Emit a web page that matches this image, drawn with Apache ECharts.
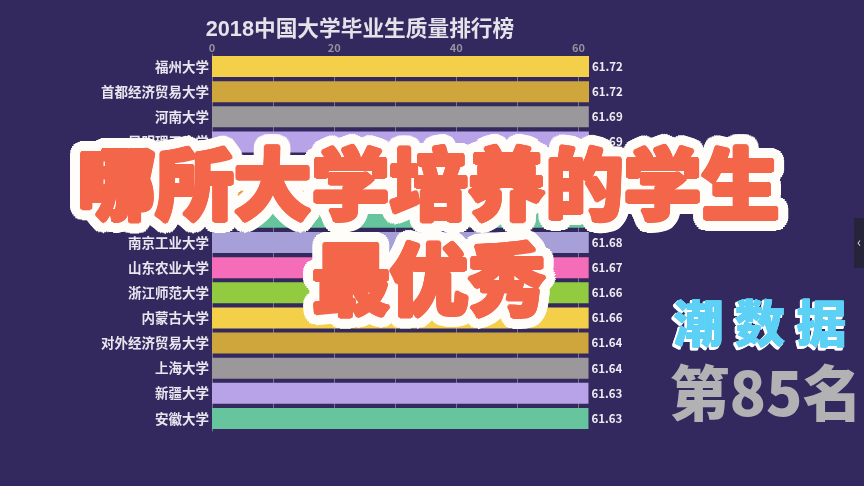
<!DOCTYPE html>
<html>
<head>
<meta charset="utf-8">
<style>
  html, body { margin: 0; padding: 0; background: #33295e; }
  #main { width: 864px; height: 486px; }
</style>
<script src="https://cdn.jsdelivr.net/npm/echarts@6/dist/echarts.min.js"></script>
</head>
<body>
<div id="main"></div>
<script>
// rows 5-7 sit behind the big caption, their names can't be read
var schools = ['福州大学', '首都经济贸易大学', '河南大学', '昆明理工大学', '', '', '', '南京工业大学', '山东农业大学', '浙江师范大学', '内蒙古大学', '对外经济贸易大学', '上海大学', '新疆大学', '安徽大学'];
var scores = [61.72, 61.72, 61.69, 61.69, 61.69, 61.68, 61.68, 61.68, 61.67, 61.66, 61.66, 61.64, 61.64, 61.63, 61.63];
var barColors = ['#f3cf4a', '#cfa63c', '#9a989a', '#b9a3e8', '#66c59c', '#e8a040', '#66c59c', '#a69fd8', '#f56cb8', '#92cb3f', '#f3cf4a', '#cfa63c', '#9a989a', '#b9a3e8', '#66c59c'];
var xTicks = [0, 20, 40, 60];

var bg = '#33295e';
var cjk = '"Noto Sans CJK SC"';
var latin = '"Liberation Sans", "Noto Sans CJK SC"';
var myChart = echarts.init(document.getElementById('main'));

function bigText(text, x, y, size, fill, weight) {
  return {
    type: 'text',
    z: 100,
    style: {
      text: text,
      x: x,
      y: y,
      fill: fill,
      font: weight + ' ' + size + 'px ' + cjk,
      textAlign: 'center',
      textVerticalAlign: 'middle'
    }
  };
}

// zrender text strokes have sharp corners, so a round outline is made from copies on a circle
function ring(text, x, y, size, fill, radius, count) {
  var out = [];
  for (var i = 0; i < count; i++) {
    var a = i / count * Math.PI * 2;
    out.push(bigText(text, x + Math.cos(a) * radius, y + Math.sin(a) * radius, size, fill, 900));
  }
  return out;
}

var caption = [
  ['哪所大学培养的学生', 428.5, 184],
  ['最优秀', 429, 279]
];
var captionGraphic = [];
caption.forEach(function (c) {
  captionGraphic = captionGraphic.concat(ring(c[0], c[1], c[2], 78, '#fffdfa', 12, 32));
});
caption.forEach(function (c) {
  captionGraphic = captionGraphic.concat(ring(c[0], c[1], c[2], 78, '#f4664a', 2, 12));
});

myChart.setOption({
  backgroundColor: bg,
  animation: false,
  title: {
    text: '2018中国大学毕业生质量排行榜',
    left: 355,
    top: 14,
    textAlign: 'center',
    textStyle: { color: '#e4e3ea', fontSize: 21.7, fontWeight: 'bold', fontFamily: latin }
  },
  grid: { left: 212, right: 275, top: 54, height: 377 },
  xAxis: {
    type: 'value',
    position: 'top',
    min: 0,
    max: 61.72,
    axisTick: { show: false },
    axisLine: { show: false },
    axisLabel: { customValues: xTicks, color: '#96929f', fontSize: 11, margin: 1, fontWeight: 'bold', fontFamily: cjk },
    splitLine: { show: true, showMaxLine: false, lineStyle: { color: '#77738a', width: 1 } },
    customValues: xTicks
  },
  yAxis: {
    type: 'category',
    inverse: true,
    data: schools,
    axisTick: { show: false },
    axisLine: { show: true, lineStyle: { color: '#77738a' } },
    axisLabel: { color: '#e8e6ee', fontSize: 13.5, fontWeight: 'bold', margin: 3, fontFamily: cjk }
  },
  series: [{
    type: 'bar',
    data: scores,
    barWidth: 21,
    itemStyle: { color: function (p) { return barColors[p.dataIndex]; } },
    label: {
      show: true,
      position: 'right',
      distance: 3,
      color: '#eeedf3',
      fontSize: 11.5,
      fontWeight: 'bold',
      fontFamily: cjk,
      formatter: function (p) { return p.value.toFixed(2); }
    }
  }],
  graphic: [
    // grid lines stop at the first and last bar
    { type: 'rect', z: 90, shape: { x: 213, y: 52, width: 380, height: 4 }, style: { fill: bg } },
    { type: 'rect', z: 90, shape: { x: 213, y: 429, width: 380, height: 4 }, style: { fill: bg } }
  ].concat(
    captionGraphic,
    ring('潮 数 据', 758, 325, 50, '#ffffff', 1, 8),
    ring('潮 数 据', 760, 323, 50, '#5cd0f5', 0.5, 6),
    [
      bigText('第85名', 766, 393, 60, '#b2b1b4', 900),
      { type: 'rect', z: 100, shape: { x: 854, y: 218, width: 10, height: 50 }, style: { fill: '#26243a' } },
      { type: 'text', z: 101, style: { text: '‹', x: 859, y: 242, fill: '#d8d8e0', font: '14px ' + cjk, textAlign: 'center', textVerticalAlign: 'middle' } }
    ]
  )
});
</script>
</body>
</html>
